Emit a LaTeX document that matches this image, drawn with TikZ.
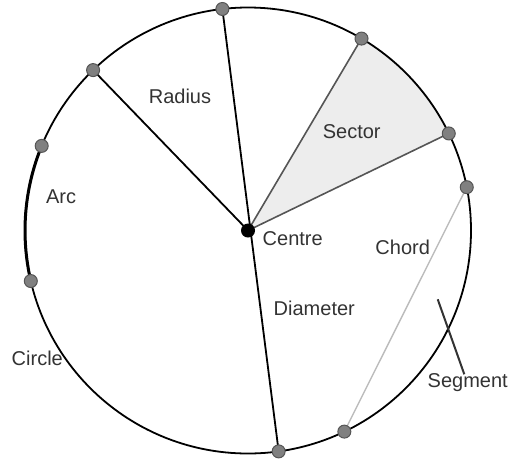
\documentclass[tikz,border=0pt]{standalone}
\usepackage{fontspec}
\setmainfont{Liberation Sans}
\usetikzlibrary{calc}

\definecolor{txtgray}{HTML}{333333}
\definecolor{ptfill}{HTML}{808080}
\definecolor{ptedge}{HTML}{555555}
\definecolor{sectorfill}{HTML}{EDEDED}
\definecolor{chordgray}{HTML}{BBBBBB}

\tikzset{
  pt/.style = {circle, draw=ptedge, fill=ptfill, line width=0.5pt,
               inner sep=0pt, minimum size=6.5pt},
  lbl/.style = {text=txtgray, font=\fontsize{10}{12}\selectfont, inner sep=0pt},
}

\begin{document}
\begin{tikzpicture}[x=0.5pt, y=0.5pt]
  \useasboundingbox (0,0) rectangle (512,462);

  \begin{scope}[shift={(248,231.5)}]
    % points on the circle
    \coordinate (O) at (0,0);
    \coordinate (top) at (96.6:223);
    \coordinate (rad) at (134:223);
    \coordinate (arcA) at (157.7:223);
    \coordinate (arcB) at (193.1:223);
    \coordinate (secA) at (59.4:223);
    \coordinate (secB) at (25.8:223);
    \coordinate (chA) at (11.2:223);
    \coordinate (bot) at (277.9:223);
    \coordinate (chB) at (295.6:223);

    % sector
    \fill[sectorfill] (O) -- (secA) arc[start angle=59.4, end angle=25.8, radius=223] -- cycle;
    \draw[ptedge, line width=0.8pt] (secA) -- (O) -- (secB);

    % circle and arc
    \draw[line width=0.9pt] (O) circle[radius=223];
    \draw[line width=1.5pt] (arcA) arc[start angle=157.7, end angle=193.1, radius=223];

    % diameter, radius, chord
    \draw[line width=0.9pt] (top) -- (bot);
    \draw[line width=0.9pt] (rad) -- (O);
    \draw[chordgray, line width=0.7pt] (chA) -- (chB);
  \end{scope}

  % segment marker
  \coordinate (segA) at (437.7,162.7);
  \coordinate (segB) at (464.3,87.7);
  \draw[txtgray, line width=1pt] (segA) -- (segB);

  % dots
  \foreach \p in {top, rad, arcA, arcB, secA, secB, chA, bot, chB}
    \node[pt] (d\p) at (\p) {};
  \node[circle, fill=black, inner sep=0pt, minimum size=7pt] (dO) at (O) {};

  % labels
  \node[lbl] (radius) at (180,365.3) {Radius};
  \node[lbl] (arc) at (61,265.3) {Arc};
  \node[lbl] (sector) at (351.7,330.3) {Sector};
  \node[lbl] (centre) at (292.7,223.7) {Centre};
  \node[lbl] (chord) at (402.7,214.3) {Chord};
  \node[lbl] (diameter) at (314.3,153.7) {Diameter};
  \node[lbl] (segment) at (467.7,79) {Segment};
  \node[lbl] (circle) at (37.3,103.7) {Circle};
\end{tikzpicture}
\end{document}
